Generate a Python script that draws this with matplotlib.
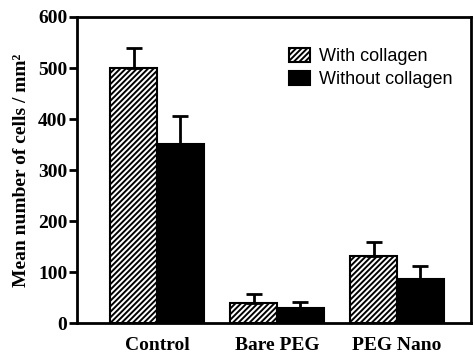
import matplotlib.pyplot as plt
import numpy as np

plt.rcParams['hatch.linewidth'] = 1.4

categories = ['Control', 'Bare PEG', 'PEG Nano']
with_collagen = [500, 39, 131]
with_err = [40, 18, 28]
without_collagen = [351, 30, 86]
without_err = [55, 11, 26]
yticks = [0, 100, 200, 300, 400, 500, 600]

fig = plt.figure(figsize=(4.74, 3.64), dpi=100)
ax = fig.add_axes([0.1624, 0.1126, 0.8313, 0.8407])

x = np.arange(len(categories))
w = 0.39

# Bars
ax.bar(x - w / 2, with_collagen, w, color='white', edgecolor='black', hatch='//////',
       linewidth=1.5, label='With collagen')
ax.bar(x + w / 2, without_collagen, w, color='black', edgecolor='black',
       linewidth=1.5, label='Without collagen')

# Error bars (upper only)
ax.errorbar(x - w / 2, with_collagen, yerr=[np.zeros(3), with_err], fmt='none',
            ecolor='black', elinewidth=2, capsize=6, capthick=2)
ax.errorbar(x + w / 2, without_collagen, yerr=[np.zeros(3), without_err], fmt='none',
            ecolor='black', elinewidth=2, capsize=6, capthick=2)

ax.set_xlim(-0.667, 2.617)
ax.set_ylim(0, 600)
ax.set_yticks(yticks)
ax.set_xticks(x)
ax.set_xticklabels(categories, fontfamily='Liberation Serif', fontweight='bold', fontsize=14)
for lab in ax.get_yticklabels():
    lab.set_fontfamily('Liberation Serif')
    lab.set_fontweight('bold')
    lab.set_fontsize(14)
ax.tick_params(axis='x', length=0, pad=10)
ax.tick_params(axis='y', direction='out', length=6, width=2, pad=1)
for s in ax.spines.values():
    s.set_linewidth(2)

ax.set_ylabel('Mean number of cells / mm²', fontfamily='Liberation Serif',
              fontweight='bold', fontsize=14, labelpad=6)

# Legend
ax.legend(loc='upper right', bbox_to_anchor=(0.954, 0.899), frameon=False,
          prop={'family': 'Liberation Sans', 'size': 13}, handlelength=1.2,
          handleheight=0.8, handletextpad=0.5, labelspacing=0.33,
          borderpad=0, borderaxespad=0)

plt.savefig('out.png', dpi=100)
